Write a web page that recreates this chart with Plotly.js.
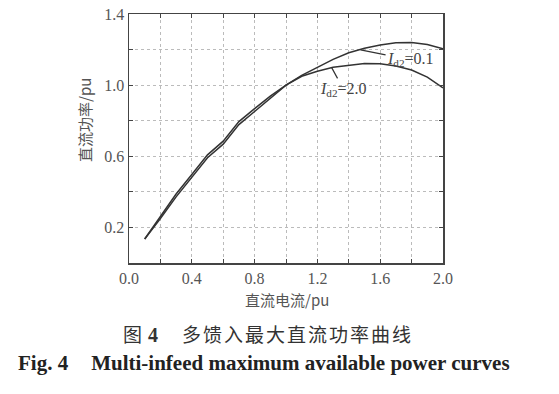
<!DOCTYPE html>
<html>
<head>
<meta charset="utf-8">
<script src="https://cdn.plot.ly/plotly-3.0.1.min.js"></script>
<style>
html,body{margin:0;padding:0;background:#fff;}
#chart{width:559px;height:394px;position:relative;}
.cap{position:absolute;white-space:nowrap;}
#cap1{top:322px;left:123px;font-family:"Noto Sans CJK SC",sans-serif;font-size:19px;line-height:24px;color:#333;}
#cap1 .num{font-family:"Liberation Serif",serif;font-weight:bold;font-size:20px;margin-left:6px;margin-right:24px;}
#cap1 .txt{letter-spacing:2px;}
#cap2{top:350px;left:18px;font-family:"Liberation Serif",serif;font-size:21px;font-weight:bold;line-height:26px;color:#222;}
#cap2 .num{margin-right:23px;}
</style>
</head>
<body>
<div id="chart"></div>
<div class="cap" id="cap1"><span>图</span><span class="num">4</span><span class="txt">多馈入最大直流功率曲线</span></div>
<div class="cap" id="cap2"><span class="num">Fig. 4</span><span>Multi-infeed maximum available power curves</span></div>
<script>
const dcCurrent = [0.1,0.2,0.3,0.4,0.5,0.6,0.7,0.8,0.9,1.0,1.1,1.2,1.3,1.4,1.5,1.6,1.7,1.8,1.9,2.0];
const powerId01 = [0.135,0.258,0.388,0.498,0.608,0.685,0.795,0.868,0.938,1.0,1.055,1.10,1.145,1.182,1.207,1.226,1.238,1.24,1.228,1.205];
const powerId20 = [0.135,0.25,0.372,0.482,0.592,0.668,0.778,0.852,0.927,1.0,1.05,1.078,1.10,1.113,1.122,1.12,1.108,1.085,1.045,0.985];
const xTitle = '直流电流/pu';
const yTitle = '直流功率/pu';
const labelId01 = '<i>I</i><sub>d2</sub>=0.1';
const labelId20 = '<i>I</i><sub>d2</sub>=2.0';

const lineStyle = {color:'#333', width:1.5};
const traces = [
  {x:dcCurrent, y:powerId01, mode:'lines', line:lineStyle, name:labelId01, hoverinfo:'skip'},
  {x:dcCurrent, y:powerId20, mode:'lines', line:lineStyle, name:labelId20, hoverinfo:'skip'}
];
const tickFont = {family:'Liberation Serif, serif', size:16, color:'#555'};
const axisCommon = {
  showline:true, linecolor:'#444', linewidth:1.5, mirror:'ticks',
  ticks:'inside', ticklen:4, tickcolor:'#444', tickwidth:1,
  showgrid:true, gridcolor:'#bbb', griddash:'dot', gridwidth:1,
  zeroline:false, tickfont:tickFont, tickmode:'linear', tickformat:'.1f'
};
const minorCommon = {ticks:'inside', ticklen:4, tickcolor:'#444', tickwidth:1, showgrid:true, gridcolor:'#bbb', griddash:'dot', gridwidth:1};
const titleFont = {family:'Noto Sans CJK SC, sans-serif', size:15, color:'#555'};
const layout = {
  width:559, height:394,
  margin:{l:129, r:116, t:14, b:131},
  paper_bgcolor:'#fff', plot_bgcolor:'#fff',
  showlegend:false,
  xaxis:Object.assign({}, axisCommon, {
    range:[0,2.0], tick0:0, dtick:0.4,
    minor:Object.assign({}, minorCommon, {tick0:0, dtick:0.2})
  }),
  yaxis:Object.assign({}, axisCommon, {
    range:[0,1.4], tick0:0.2, dtick:0.4,
    minor:Object.assign({}, minorCommon, {tick0:0, dtick:0.2})
  }),
  annotations:[
    {x:1.475, y:1.198, xref:'x', yref:'y', text:labelId01, showarrow:true, arrowhead:0, arrowwidth:1.2, arrowcolor:'#333', ax:50, ay:10, standoff:0,
     font:{family:'Liberation Serif, serif', size:16, color:'#444'}},
    {x:1.29, y:1.10, xref:'x', yref:'y', text:labelId20, showarrow:true, arrowhead:0, arrowwidth:1.2, arrowcolor:'#333', ax:12, ay:22, standoff:0,
     font:{family:'Liberation Serif, serif', size:16, color:'#444'}},
    {x:(287-129)/314, y:(263-299)/249, xref:'paper', yref:'paper', xanchor:'center', yanchor:'middle', showarrow:false, text:xTitle, font:titleFont},
    {x:(85-129)/314, y:(263-120)/249, xref:'paper', yref:'paper', xanchor:'center', yanchor:'middle', showarrow:false, text:yTitle, textangle:-90, font:titleFont}
  ]
};
Plotly.newPlot('chart', traces, layout, {staticPlot:true, displayModeBar:false});
</script>
</body>
</html>
